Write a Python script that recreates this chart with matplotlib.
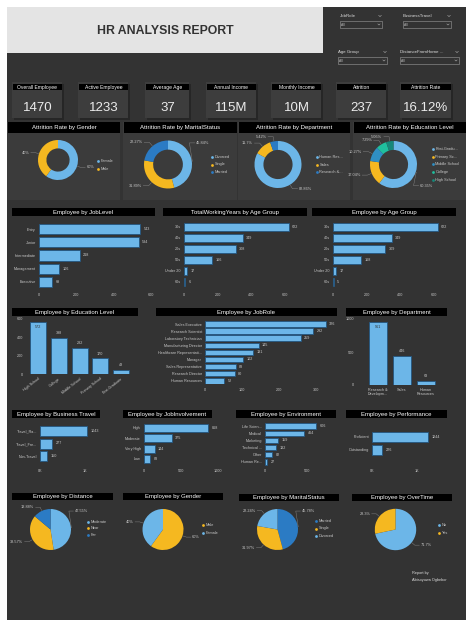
import numpy as np
import matplotlib.pyplot as plt
from matplotlib.patches import Rectangle
from matplotlib.ticker import FuncFormatter

plt.rcParams['font.family'] = ['Liberation Sans', 'DejaVu Sans']

# ---------------- data ----------------
kpi_titles = ['Overall Employee', 'Active Employee', 'Average Age', 'Annual Income',
              'Monthly Income', 'Attrition', 'Attrition Rate']
kpi_values = ['1470', '1233', '37', '115M', '10M', '237', '16.12%']

gender_att_labels = ['Female', 'Male']
gender_att_values = [60, 40]
marital_att_labels = ['Divorced', 'Single', 'Married']
marital_att_values = [45.84, 31.89, 22.27]
dept_att_labels = ['Human Res...', 'Sales', 'Research &...']
dept_att_values = [82.86, 11.7, 5.42]
edu_att_labels = ['Post-Gradu...', 'Primary Sc...', 'Middle School', 'College', 'High School']
edu_att_values = [60.35, 17.04, 10.27, 7.29, 5.06]

joblevel_labels = ['Entry', 'Junior', 'Intermediate', 'Management', 'Executive']
joblevel_values = [543, 534, 218, 106, 69]
agegroup_labels = ['30s', '40s', '20s', '50s', 'Under 20', '60s']
twy_values = [622, 349, 308, 166, 17, 6]
agegroup_values = [622, 349, 309, 168, 17, 5]

edu_labels = ['High School', 'College', 'Middle School', 'Primary School', 'Post-Graduate']
edu_values = [572, 398, 282, 170, 48]
jobrole_labels = ['Sales Executive', 'Research Scientist', 'Laboratory Technician',
                  'Manufacturing Director', 'Healthcare Representati...', 'Manager',
                  'Sales Representative', 'Research Director', 'Human Resources']
jobrole_values = [326, 292, 259, 145, 131, 102, 83, 80, 52]
dept_labels = ['Research &\nDevelopm...', 'Sales', 'Human\nResources']
dept_values = [961, 446, 63]

travel_labels = ['Travel_Ra...', 'Travel_Fre...', 'Non-Travel']
travel_values = [1043, 277, 150]
involve_labels = ['High', 'Moderate', 'Very High', 'Low']
involve_values = [868, 375, 144, 83]
env_labels = ['Life Scien...', 'Medical', 'Marketing', 'Technical ...', 'Other', 'Human Re...']
env_values = [606, 464, 159, 132, 82, 27]
perf_labels = ['Proficient', 'Outstanding']
perf_values = [1244, 226]

distance_labels = ['Moderate', 'Near', 'Far']
distance_values = [47.55, 38.57, 13.88]
gender_labels = ['Male', 'Female']
gender_values = [60, 40]
marital_labels = ['Married', 'Single', 'Divorced']
marital_values = [45.78, 31.97, 22.24]
overtime_labels = ['No', 'Yes']
overtime_values = [71.7, 28.3]

# ---------------- style ----------------
LB = '#6cb6e8'
YEL = '#f5b820'
DB = '#2b7bc4'
TEAL = '#1fbf9e'
DTEAL = '#16887a'
MID = '#2f8fc4'
EDGE = '#23557f'
TXT = '#c8c8c8'
PAGE = '#333333'
PANEL = '#3b3b3b'

W, H = 474, 627
fig = plt.figure(figsize=(W / 100, H / 100), dpi=100, facecolor='white')
bg = fig.add_axes([0, 0, 1, 1])
bg.set_xlim(0, W)
bg.set_ylim(H, 0)
bg.axis('off')


def px_axes(x, y, w, h):
    ax = fig.add_axes([x / W, 1 - (y + h) / H, w / W, h / H])
    ax.patch.set_visible(False)
    return ax


def box(x0, y0, x1, y1, fc, ec='none', lw=0, z=1):
    bg.add_patch(Rectangle((x0, y0), x1 - x0, y1 - y0, facecolor=fc,
                           edgecolor=ec, linewidth=lw, zorder=z))


def title_bar(x0, x1, y0, y1, text, fs=4.3):
    box(x0, y0, x1, y1, 'black', z=3)
    bg.text((x0 + x1) / 2, (y0 + y1) / 2 + 0.3, text, color='white', fontsize=fs,
            ha='center', va='center', zorder=4)


def chevron(x, y, s=1.3):
    bg.plot([x - s, x, x + s], [y - s / 2, y + s / 2, y - s / 2], color='#aaaaaa', lw=0.4, zorder=4)


def pct(v):
    return ('%.2f' % v).rstrip('0').rstrip('.') + '%'


def legend(x, y0, dy, labels, colors):
    for i, (lab, c) in enumerate(zip(labels, colors)):
        bg.scatter([x], [y0 + i * dy], s=4, color=c, zorder=5, linewidths=0)
        bg.text(x + 2.5, y0 + i * dy, lab, color=TXT, fontsize=2.8, va='center', zorder=5)


def ring(cx, cy, r, values, colors, width=None):
    ax = px_axes(cx - 1.6 * r, cy - 1.6 * r, 3.2 * r, 3.2 * r)
    wp = dict(linewidth=0)
    if width:
        wp['width'] = width
    wedges, _ = ax.pie(values, colors=colors, startangle=90, counterclock=False,
                       radius=1, wedgeprops=wp)
    ax.set_xlim(-1.6, 1.6)
    ax.set_ylim(-1.6, 1.6)
    ax.axis('off')
    for w, v in zip(wedges, values):
        th = np.deg2rad((w.theta1 + w.theta2) / 2)
        c, s = np.cos(th), np.sin(th)
        sign = 1 if c >= 0 else -1
        lab = pct(v)
        ly = 1.2 * s
        lx = 1.2 * c
        # long labels on the right would sit on the legend: push them up or down
        if sign > 0 and abs(ly) < 0.6 and len(lab) > 4:
            ly = 0.9 if s >= 0 else -0.9
            lx = max(lx * 0.75, 0.6)
        p2 = (lx + sign * 0.22, ly)
        ax.plot([1.02 * c, lx, p2[0]], [1.02 * s, ly, p2[1]], color='#8a8a8a', lw=0.3,
                clip_on=False)
        ax.text(p2[0] + sign * 0.06, p2[1], lab, color=TXT, fontsize=2.8, va='center',
                ha='left' if sign > 0 else 'right', clip_on=False)
    return ax


def tick_pad(gap_px, fs):
    return max((gap_px - fs * 100 / 72 / 2) * 0.72, 0)


def style_axes(ax):
    for sp in ax.spines.values():
        sp.set_visible(False)
    ax.tick_params(length=0, labelsize=2.7, colors=TXT)


def hbar(x, y, w, h, cats, vals, xmax, xticks, tick_y, fmt=None, bh=0.76):
    ax = px_axes(x, y, w, h)
    pos = np.arange(len(cats))
    ax.barh(pos, vals, height=bh, color=LB, edgecolor=EDGE, linewidth=0.6)
    ax.set_ylim(len(cats) - 0.5, -0.5)
    ax.set_xlim(0, xmax)
    ax.set_yticks(pos, cats)
    ax.set_xticks(xticks)
    if fmt:
        ax.xaxis.set_major_formatter(FuncFormatter(fmt))
    style_axes(ax)
    ax.tick_params(axis='y', pad=2.2)
    ax.tick_params(axis='x', pad=tick_pad(tick_y - (y + h), 2.7))
    for p, v in zip(pos, vals):
        ax.annotate(str(v), (v, p), xytext=(2.5, 0), textcoords='offset points',
                    color=TXT, fontsize=2.7, va='center')
    return ax


def vbar(x, y, w, h, cats, vals, xlim, ymax, yticks, bw=0.76, rot=0):
    ax = px_axes(x, y, w, h)
    pos = np.arange(len(cats))
    ax.bar(pos, vals, width=bw, color=LB, edgecolor=EDGE, linewidth=0.6)
    ax.set_xlim(*xlim)
    ax.set_ylim(0, ymax)
    ax.set_yticks(yticks)
    style_axes(ax)
    ax.tick_params(axis='y', pad=3)
    if rot:
        ax.set_xticks(pos, cats, rotation=rot, ha='right', rotation_mode='anchor')
    else:
        ax.set_xticks(pos, cats)
    ax.tick_params(axis='x', pad=2)
    for p, v in zip(pos, vals):
        if v > 0.9 * ymax:
            ax.annotate(str(v), (p, v), xytext=(0, -2.5), textcoords='offset points',
                        color='#333333', fontsize=2.7, ha='center', va='top')
        else:
            ax.annotate(str(v), (p, v), xytext=(0, 2), textcoords='offset points',
                        color=TXT, fontsize=2.7, ha='center', va='bottom')
    return ax


# ---------------- page ----------------
box(7, 7, 466, 620, PAGE, z=0)
box(7, 7, 323, 53, '#e4e4e4', z=1)
bg.text(165, 31, 'HR ANALYSIS REPORT', fontsize=8.8, fontweight='bold', color='#333333',
        ha='center', va='center', zorder=3)

# slicers
slicers = [('JobRole', 340, 16, 382), ('BusinessTravel', 403, 16, 451),
           ('Age Group', 338, 52, 387), ('DistanceFromHome ...', 400, 52, 459)]
for name, sx, sy, sx1 in slicers:
    bg.text(sx, sy, name, color='#dddddd', fontsize=3.2, va='center', zorder=4)
    chevron(sx1 - 2, sy)
    box(sx, sy + 5, sx1, sy + 12, 'none', ec='#9a9a9a', lw=0.4, z=4)
    bg.text(sx + 1.5, sy + 8.5, 'All', color='#bbbbbb', fontsize=2.4, va='center', zorder=4)
    chevron(sx1 - 3, sy + 8.5, 1.1)

# KPI cards
kpi_x = [(13, 62), (79, 128), (146, 189), (207, 256), (272, 321), (337, 386), (401, 451)]
for (x0, x1), t, v in zip(kpi_x, kpi_titles, kpi_values):
    box(x0 + 1.5, 83.5, x1 + 2.5, 120, '#262626', z=1)
    box(x0 - 0.5, 82, x1 + 0.5, 118, '#3d3d3d', z=2)
    title_bar(x0, x1, 84, 90, t, fs=3.6)
    bg.text((x0 + x1) / 2, 108, v, color='#ececec', fontsize=9.5, ha='center', va='center',
            zorder=4)

# donut row
donut_panels = [(7, 120, 'Attrition Rate by Gender'), (123, 237, 'Attrition Rate by MaritalStatus'),
                (238, 350, 'Attrition Rate by Department'),
                (353, 466, 'Attrition Rate by Education Level')]
for x0, x1, t in donut_panels:
    box(x0, 122, x1, 200, PANEL, z=1)
    title_bar(x0 + 1, x1, 122, 133, t)

ring(58, 160, 20, gender_att_values, [LB, YEL], width=0.42)
legend(98, 161, 8, gender_att_labels, [LB, YEL])
ring(168, 164.5, 24, marital_att_values, [LB, YEL, DB], width=0.38)
legend(212, 157, 7.5, marital_att_labels, [LB, YEL, DB])
ring(278, 164.5, 23.5, dept_att_values, [LB, YEL, DB], width=0.38)
legend(317, 157, 7.5, dept_att_labels, [LB, YEL, DB])
edu_cols = [LB, YEL, MID, TEAL, DTEAL]
ring(393.5, 164.5, 23.5, edu_att_values, edu_cols, width=0.38)
legend(433, 149, 7.7, edu_att_labels, edu_cols)

# bar row 1
title_bar(12, 155, 208, 216, 'Employee by JobLevel')
hbar(39, 222.5, 115.7, 66, joblevel_labels, joblevel_values, 620, [0, 200, 400, 600], 295)
title_bar(163, 307, 208, 216, 'TotalWorkingYears by Age Group')
hbar(184, 221.5, 114.5, 66, agegroup_labels, twy_values, 680, [0, 200, 400, 600], 295)
title_bar(312, 456, 208, 216, 'Employee by Age Group')
hbar(333, 221.5, 114.5, 66, agegroup_labels, agegroup_values, 680, [0, 200, 400, 600], 295)

# bar row 2
title_bar(12, 138, 308, 316, 'Employee by Education Level')
vbar(27.6, 319, 103.9, 55, edu_labels, edu_values, (-0.5, 4.5), 600, [0, 200, 400, 600],
     bw=0.77, rot=38)
title_bar(156, 337, 308, 316, 'Employee by JobRole')
hbar(205, 320.5, 125.8, 63.8, jobrole_labels, jobrole_values, 340, [0, 100, 200, 300], 390,
     bh=0.78)
title_bar(346, 447, 308, 316, 'Employee by Department')
vbar(358, 319, 82, 66, dept_labels, dept_values, (-0.83, 2.58), 1000, [0, 500, 1000], bw=0.75)

# bar row 3
kfmt = lambda v, p: '%dK' % (v / 1000)
title_bar(12, 100, 410, 418, 'Employee by Business Travel')
hbar(40, 424.75, 58.5, 37.5, travel_labels, travel_values, 1300, [0, 1000], 471, fmt=kfmt, bh=0.8)
title_bar(123, 212, 410, 418, 'Employee by JobInvolvement')
hbar(144, 422.8, 74, 41.3, involve_labels, involve_values, 1000, [0, 500, 1000], 471, bh=0.78)
title_bar(236, 336, 410, 418, 'Employee by Environment')
hbar(265, 422.4, 71, 43.2, env_labels, env_values, 845, [0, 500], 471, bh=0.74)
title_bar(346, 447, 410, 418, 'Employee by Performance')
hbar(372, 430.5, 74.25, 26, perf_labels, perf_values, 1650, [0, 1000], 471, fmt=kfmt, bh=0.77)

# pie row
title_bar(12, 113, 493, 500, 'Employee by Distance')
ring(50.5, 529.5, 20.5, distance_values, [LB, YEL, DB])
legend(88, 521.7, 6.7, distance_labels, [LB, YEL, DB])
title_bar(123, 223, 493, 500, 'Employee by Gender')
ring(163, 529.5, 20.5, gender_values, [YEL, LB])
legend(203, 525, 8, gender_labels, [YEL, LB])
title_bar(239, 339, 494, 501, 'Employee by MaritalStatus')
ring(277.5, 529.5, 20.5, marital_values, [DB, YEL, LB])
legend(316, 521, 7.5, marital_labels, [DB, YEL, LB])
title_bar(352, 452, 494, 501, 'Employee by OverTime')
ring(395.5, 529.5, 20.7, overtime_values, [LB, YEL])
legend(439, 525, 8, overtime_labels, [LB, YEL])

bg.text(412, 573, 'Report by', color='#dddddd', fontsize=2.8, va='center', zorder=4)
bg.text(412, 580, 'Abisoyuwa Ogbebor', color='#dddddd', fontsize=2.8, va='center', zorder=4)

fig.savefig('out.png', dpi=100, facecolor='white')
